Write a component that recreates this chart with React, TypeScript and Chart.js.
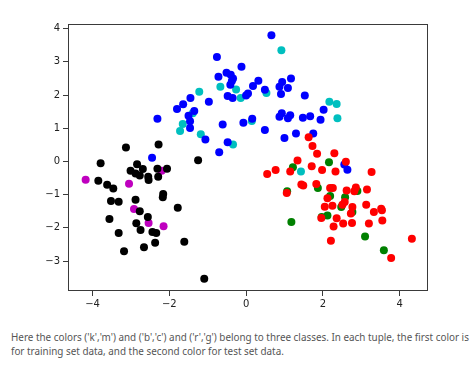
import React, { useEffect, useRef } from "react";
import { Chart, registerables } from "chart.js";

Chart.register(...registerables);

// class 1: training 'k', test 'm'
const blackPts: [number, number][] = [
  [-3.79, -0.05], [-2.84, -0.08], [-3.01, -0.28], [-2.88, -0.36], [-2.77, -0.42],
  [-2.69, -0.23], [-2.55, -0.46], [-2.54, -0.56], [-2.31, -0.22], [-2.29, -0.46],
  [-2.06, -0.22], [-3.85, -0.58], [-3.62, -0.70], [-3.46, -0.81], [-3.52, -1.19],
  [-3.32, -1.21], [-2.88, -1.15], [-2.16, -0.98], [-2.17, -1.08], [-1.78, -1.39],
  [-2.77, -1.50], [-2.56, -1.67], [-3.56, -1.73], [-2.86, -1.86], [-2.75, -2.06],
  [-3.32, -2.15], [-2.44, -2.12], [-2.34, -2.15], [-2.66, -2.58], [-2.37, -2.45],
  [-3.18, -2.70], [-1.61, -2.42], [-3.13, 0.42], [-2.28, 0.51], [-1.25, 0.04],
  [-1.09, -3.53],
];
const magentaPts: [number, number][] = [
  [-4.18, -0.55], [-3.05, -0.67], [-2.20, -0.28], [-2.92, -1.43], [-2.54, -1.85],
  [-2.15, -1.95],
];

// class 2: training 'b', test 'c'
const bluePts: [number, number][] = [
  [0.66, 3.80], [-0.76, 3.15], [-0.12, 2.85], [-0.72, 2.55], [-0.51, 2.67],
  [-0.40, 2.61], [-0.34, 2.50], [-0.37, 2.42], [-0.41, 2.31], [0.32, 2.43],
  [0.18, 2.27], [0.49, 2.16], [0.94, 2.39], [1.17, 2.50], [1.09, 2.21],
  [0.87, 2.25], [0.91, 2.03], [1.53, 1.99], [0.05, 2.05], [0.00, 1.99],
  [-0.48, 1.97], [-0.35, 1.91], [-1.45, 1.91], [-1.64, 1.72], [-1.80, 1.58],
  [-2.31, 1.29], [-0.97, 1.80], [-1.35, 1.52], [-1.50, 1.38], [-1.46, 1.21],
  [-1.46, 1.01], [-0.61, 1.11], [-0.07, 1.17], [0.16, 1.29], [0.49, 0.95],
  [0.87, 1.35], [0.93, 1.45], [1.09, 1.30], [1.15, 1.39], [1.48, 1.32],
  [1.67, 1.36], [1.94, 1.26], [2.02, 1.56], [1.30, 0.84], [1.75, 0.84],
  [1.00, 0.71], [-1.06, 0.66], [-0.48, 0.58], [-0.70, 0.28], [-2.45, 0.11],
  [2.56, -0.09], [2.64, -0.25],
];
const cyanPts: [number, number][] = [
  [0.92, 3.35], [-1.22, 2.10], [-0.67, 2.25], [-0.26, 2.17], [-0.14, 1.91],
  [0.53, 2.06], [-1.39, 1.45], [-1.65, 1.13], [-1.72, 0.92], [-1.18, 0.82],
  [-0.34, 0.51], [0.15, 1.22], [2.17, 1.80], [2.36, 1.73], [2.38, 1.30],
  [1.43, -0.30],
];

// class 3: training 'r', test 'g'
const redPts: [number, number][] = [
  [1.63, 0.73], [1.73, 0.47], [1.85, 0.23], [2.30, 0.25], [1.34, 0.03],
  [1.71, -0.14], [1.98, -0.26], [2.33, -0.30], [2.60, -0.01], [3.27, -0.32],
  [0.55, -0.38], [0.77, -0.26], [1.15, -0.30], [1.44, -0.69], [1.49, -0.72],
  [1.83, -0.68], [1.06, -0.95], [2.19, -0.80], [2.26, -0.80], [2.12, -1.11],
  [2.62, -0.87], [2.86, -0.78], [2.82, -0.90], [3.15, -0.84], [2.57, -1.22],
  [2.51, -1.30], [2.05, -1.36], [2.25, -1.33], [2.77, -1.37], [2.73, -1.57],
  [3.13, -1.30], [3.33, -1.52], [3.52, -1.42], [3.54, -1.47], [2.36, -1.71],
  [1.96, -1.70], [2.28, -1.96], [2.53, -1.87], [2.76, -1.85], [3.20, -1.87],
  [3.55, -1.78], [2.21, -2.39], [4.32, -2.33], [3.78, -2.91],
];
const greenPts: [number, number][] = [
  [1.22, -0.17], [2.16, -0.02], [1.07, -0.90], [1.87, -0.80], [2.19, -1.04],
  [2.58, -1.08], [2.90, -0.89], [2.48, -1.37], [2.77, -1.52], [1.97, -1.67],
  [2.12, -1.63], [1.18, -1.82], [3.10, -2.26], [3.59, -2.67],
];

const xTickValues = [-4, -2, 0, 2, 4];
const yTickValues = [-3, -2, -1, 0, 1, 2, 3, 4];
const xRange = [-4.64, 4.74];
const yRange = [-3.9, 4.14];

const caption = [
  "Here the colors ('k','m') and ('b','c') and ('r','g') belong to three classes. In each tuple, the first color is",
  "for training set data, and the second color for test set data.",
];

const toXY = (pts: [number, number][]) => pts.map(([x, y]) => ({ x, y }));
const fmt = (v: number) => (v < 0 ? "\u2212" + Math.abs(v) : String(v));

const framePlugin = {
  id: "frame",
  afterDraw(chart: any) {
    const { ctx, chartArea } = chart;
    ctx.save();
    ctx.strokeStyle = "#3a3a3a";
    ctx.lineWidth = 1;
    ctx.strokeRect(
      Math.round(chartArea.left) + 0.5,
      Math.round(chartArea.top) + 0.5,
      Math.round(chartArea.right - chartArea.left) - 1,
      Math.round(chartArea.bottom - chartArea.top) - 1
    );
    ctx.restore();
  },
};

export default function App() {
  const ref = useRef<HTMLCanvasElement>(null);

  useEffect(() => {
    document.body.style.margin = "0";
    const mk = (label: string, pts: [number, number][], color: string) => ({
      label,
      data: toXY(pts),
      backgroundColor: color,
      borderColor: color,
      borderWidth: 0,
      pointRadius: 4,
      pointHoverRadius: 4,
    });
    const tickFont = { family: "'DejaVu Sans', sans-serif", size: 10 };
    const chart = new Chart(ref.current!, {
      type: "scatter",
      data: {
        datasets: [
          mk("r", redPts, "#ff0000"),
          mk("g", greenPts, "#008000"),
          mk("b", bluePts, "#0000ff"),
          mk("c", cyanPts, "#00bfbf"),
          mk("k", blackPts, "#000000"),
          mk("m", magentaPts, "#bf00bf"),
        ],
      },
      options: {
        responsive: false,
        animation: false,
        devicePixelRatio: 1,
        layout: { padding: { left: 0, top: 24, right: 46, bottom: 0 } },
        plugins: { legend: { display: false }, tooltip: { enabled: false } },
        scales: {
          x: {
            type: "linear",
            min: xRange[0],
            max: xRange[1],
            afterBuildTicks: (axis: any) => {
              axis.ticks = xTickValues.map((v) => ({ value: v }));
            },
            afterFit: (scale: any) => {
              scale.height = 29;
            },
            grid: {
              drawOnChartArea: false,
              drawTicks: true,
              tickLength: 5,
              color: "#3a3a3a",
            },
            border: { display: false },
            ticks: {
              padding: 2,
              color: "#222",
              font: tickFont,
              maxRotation: 0,
              callback: (v: any) => fmt(Number(v)),
            },
          },
          y: {
            type: "linear",
            min: yRange[0],
            max: yRange[1],
            afterBuildTicks: (axis: any) => {
              axis.ticks = yTickValues.map((v) => ({ value: v }));
            },
            afterFit: (scale: any) => {
              scale.width = 68;
            },
            grid: {
              drawOnChartArea: false,
              drawTicks: true,
              tickLength: 5,
              color: "#3a3a3a",
            },
            border: { display: false },
            ticks: {
              padding: 3,
              color: "#222",
              font: tickFont,
              callback: (v: any) => fmt(Number(v)),
            },
          },
        },
      },
      plugins: [framePlugin],
    });
    return () => chart.destroy();
  }, []);

  return (
    <div style={{ position: "fixed", left: 0, top: 0, width: 474, height: 365, background: "#fff" }}>
      <canvas ref={ref} width={474} height={320} style={{ display: "block" }} />
      <div
        style={{
          position: "absolute",
          left: 11,
          top: 330,
          fontFamily: "'Noto Sans', 'Open Sans', sans-serif",
          fontSize: 9.9,
          lineHeight: "14px",
          color: "#555",
          whiteSpace: "nowrap",
        }}
      >
        {caption.map((c, i) => (
          <div key={i}>{c}</div>
        ))}
      </div>
    </div>
  );
}
